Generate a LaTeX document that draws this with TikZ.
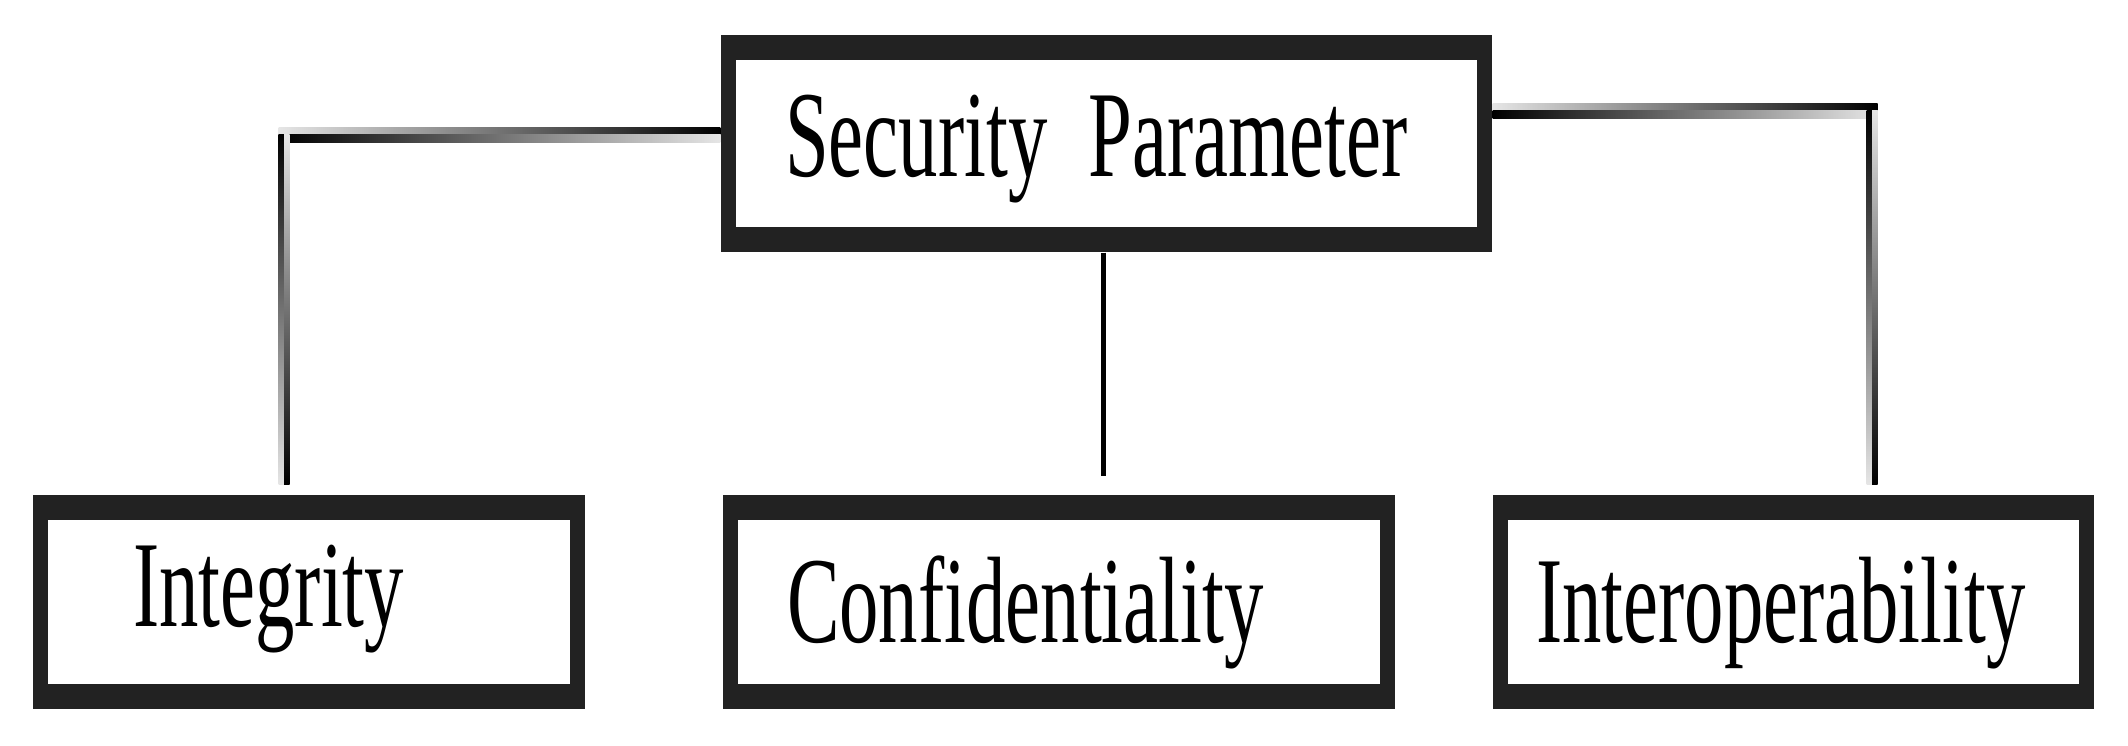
\documentclass[tikz,border=0pt]{standalone}
\usepackage{fontspec}
\setmainfont{Liberation Serif}[FakeStretch=0.64]
\usepackage{tikz}

\definecolor{boxgray}{HTML}{222222}

\begin{document}
\begin{tikzpicture}[
	tbox/.style={fill=boxgray, inner ysep=0pt, align=left,
		font=\fontsize{35}{42}\selectfont,
		path picture={\fill[white]
			([xshift=0.15cm,yshift=-0.25cm]path picture bounding box.north west) rectangle
			([xshift=-0.15cm,yshift=0.25cm]path picture bounding box.south east);}},
	fadeup/.style={left color=black!10, right color=black},
	fadedown/.style={left color=black, right color=black!10},
	fadeleft/.style={top color=black, bottom color=black!10},
	faderight/.style={top color=black!10, bottom color=black}]

\useasboundingbox (0,0) rectangle (21.28,-7.46);

\node(sec) at (11.065,-1.435) [tbox, minimum height=2.17cm, text width=6.43cm,
	inner xsep=0.64cm, text height=26.6pt, text depth=7.7pt] {Security Parameter};

\node(conf) [below of=sec, node distance=4.585cm, xshift=-0.475cm, tbox,
	minimum height=2.14cm, text width=5.44cm, inner xsep=0.64cm,
	text height=30.8pt, text depth=7.6pt] {Confidentiality};
\node(integ) [left of=conf, node distance=7.5cm, tbox, minimum height=2.14cm,
	text width=3.52cm, inner xsep=1cm, text height=21.7pt, text depth=7.7pt] {Integrity};
\node(inter) [right of=conf, node distance=7.345cm, tbox, minimum height=2.14cm,
	text width=5.15cm, inner xsep=0.43cm, text height=30.8pt, text depth=7.6pt] {Interoperability};

% free ends of the connectors
\coordinate(secL) at ([yshift=0.085cm]sec.west);
\coordinate(secR) at ([yshift=0.325cm]sec.east);
\coordinate(integT) at ([xshift=-0.25cm,yshift=0.1cm]integ.north);
\coordinate(interT) at ([xshift=0.785cm,yshift=0.1cm]inter.north);
\coordinate(confT) at ([xshift=0.44cm,yshift=0.18cm]conf.north);
\coordinate(lcorner) at (integT |- secL);
\coordinate(rcorner) at (interT |- secR);

% sec -- integ
\shade[fadeup] ([xshift=-0.055cm,yshift=0.075cm]lcorner) rectangle (secL);
\shade[fadedown] ([xshift=-0.055cm]lcorner) rectangle ([yshift=-0.075cm]secL);
\shade[fadeleft] ([xshift=-0.055cm]lcorner) rectangle (integT);
\shade[faderight] (lcorner) rectangle ([xshift=0.055cm]integT);

% sec -- inter
\shade[fadeup] ([yshift=0.075cm]secR) rectangle ([xshift=0.055cm]rcorner);
\shade[fadedown] ([yshift=-0.075cm]secR) rectangle ([xshift=0.055cm]rcorner);
\shade[fadeleft] ([xshift=-0.055cm]rcorner) rectangle (interT);
\shade[faderight] (rcorner) rectangle ([xshift=0.055cm]interT);

% sec -- conf
\draw [line width=0.05cm] (sec.south -| confT) -- (confT);

\end{tikzpicture}
\end{document}
